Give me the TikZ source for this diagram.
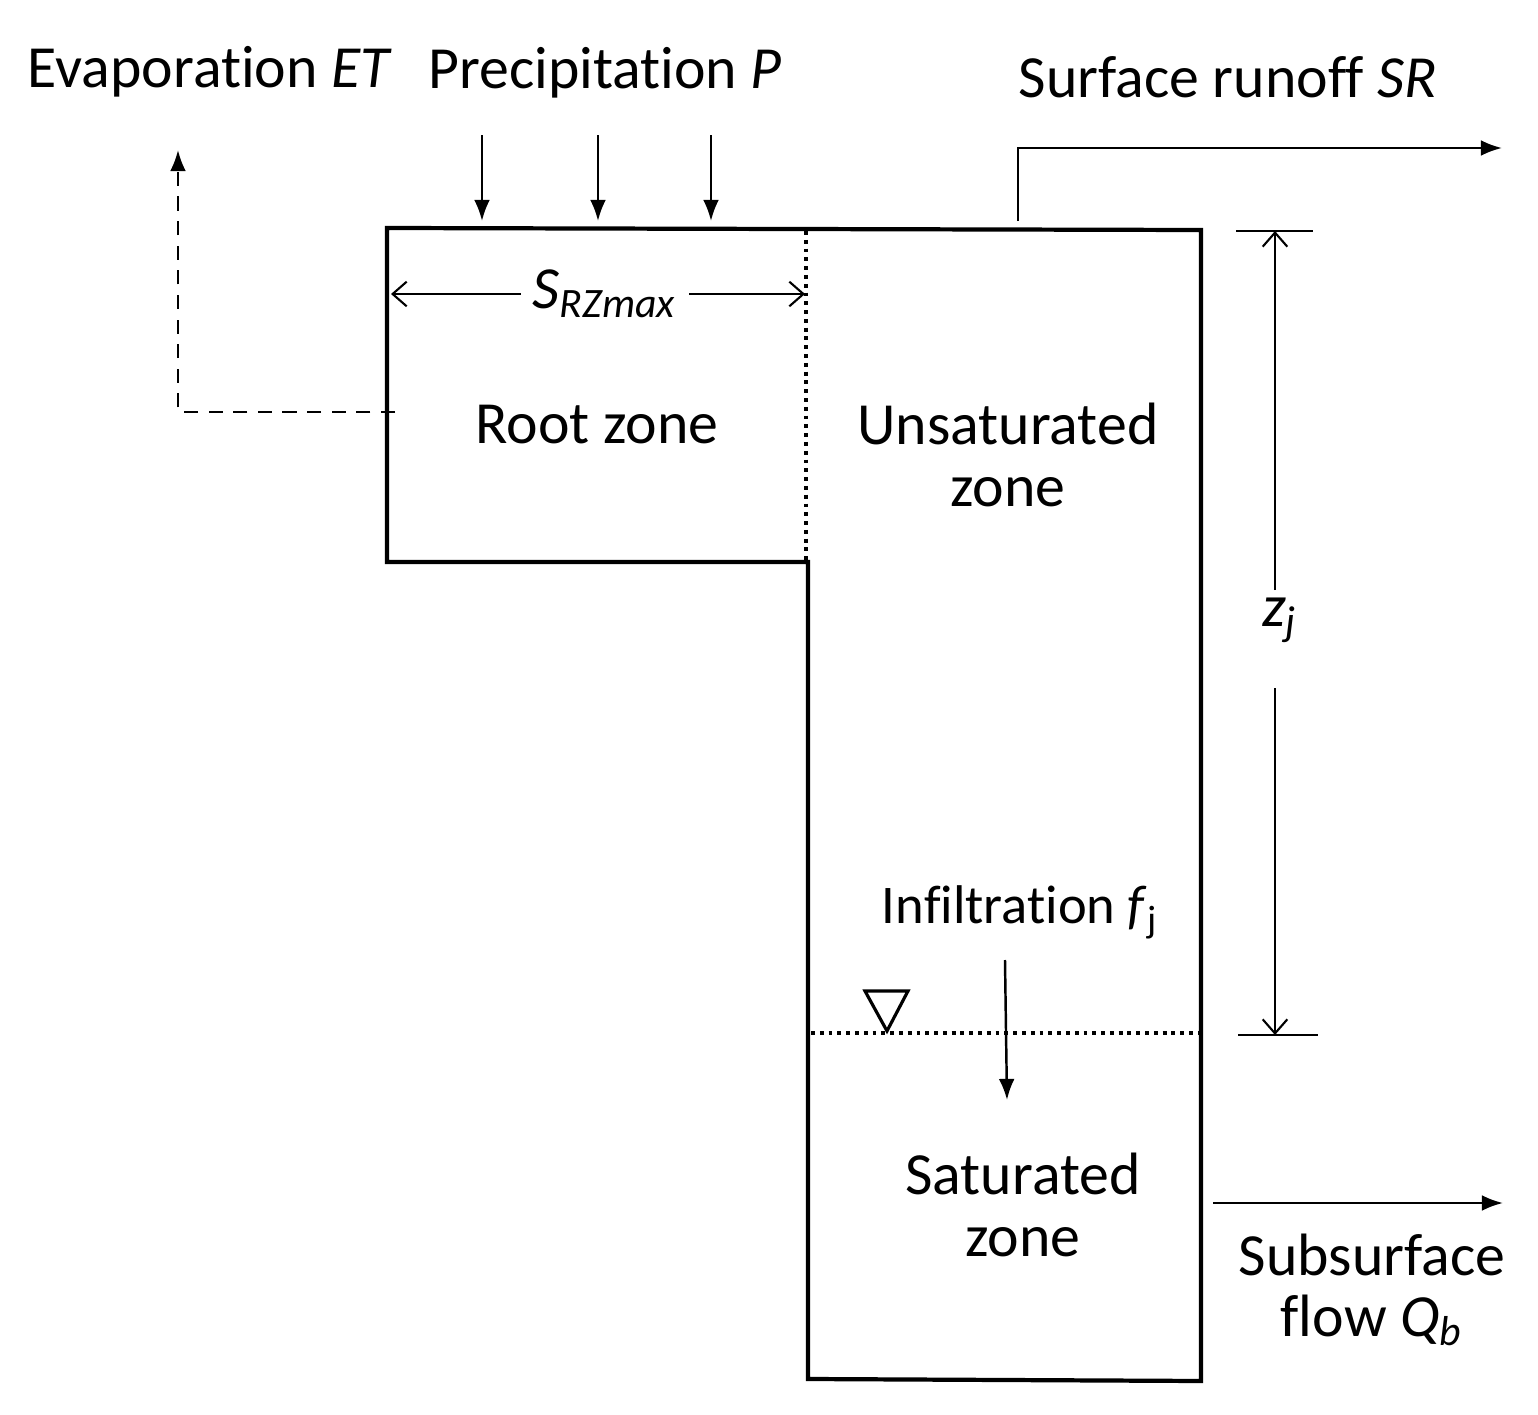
\documentclass[tikz,border=0pt]{standalone}
\usepackage{fontspec}
\setmainfont{Carlito}[Ligatures=NoCommon]
\usetikzlibrary{arrows.meta,positioning}

\begin{document}
\begin{tikzpicture}[x=0.01cm,y=-0.01cm,
  every node/.style={font=\fontsize{17}{17.5}\selectfont},
  wall/.style={line width=1.2pt,line join=miter},
  flux/.style={line width=.7pt,-{Latex[length=6pt,width=4.5pt]}},
  dimarrow/.style={line width=.6pt,-{Straight Barb[length=4pt,width=7pt]}},
  level/.style={line width=1.1pt,dash pattern=on 1.1pt off 1.4pt}]
\useasboundingbox (0,0) rectangle (1538,1415);
% corners of the store
\coordinate (tl) at (387,228);
\coordinate (tr) at (1201,230);
\coordinate (br) at (1201,1381);
\coordinate (bl) at (808,1379);
\coordinate (kneeR) at (808,562);
\coordinate (kneeL) at (387,562);
\draw[wall] (tl)--(tr)--(br)--(bl)--(kneeR)--(kneeL)--cycle;
\coordinate (divT) at (806,231);
\coordinate (divB) at (806,562);
\draw[level] (divT)--(divB);
% fluxes at the top
\node (et) at (210,72) {Evaporation \textit{ET}};
\node (prec) at (605,73) {Precipitation \textit{P}};
\node (sr) at (1228,77) {Surface runoff \textit{SR}};
\foreach \x [count=\i] in {482,598,711}{
  \coordinate (rain\i) at (\x,135);
  \coordinate (hit\i) at (\x,221);
  \draw[flux] (rain\i)--(hit\i);
}
\coordinate (etfoot) at (395,412);
\coordinate (ettop) at (178,150);
\draw[flux,dash pattern=on 4pt off 3pt] (etfoot) -| (ettop);
\coordinate (srfoot) at (1018,221);
\coordinate (srout) at (1502,148);
\draw[flux] (srfoot) |- (srout);
% root zone capacity
\node (srz) at (605,294) {\textit{S}\textsubscript{\textit{RZmax}}};
\coordinate (srzL) at (391,294);
\coordinate (srzR) at (805,294);
\draw[dimarrow] (srz.west)--(srzL);
\draw[dimarrow] (srz.east)--(srzR);
% zones
\node (rz) at (597,425) {Root zone};
\node[align=center] (uz) at (1008,455) {Unsaturated\\zone};
\node[align=center] (sz) at (1023,1205) {Saturated\\zone};
% depth to water table
\coordinate (ztop) at (1275,231);
\coordinate (zbot) at (1277,1035);
\draw[line width=.7pt] (ztop) ++(-39,0) -- ++(77,0);
\draw[line width=.7pt] (zbot) ++(-39,0) -- ++(80,0);
\node (zj) at (1280,620) {\textit{z}\textsubscript{\textit{j}}};
\coordinate (zgapA) at (1275,590);
\coordinate (zgapB) at (1275,688);
\draw[dimarrow] (zgapA)--(ztop);
\draw[dimarrow] (zgapB)--(1275,1035);
% water table
\coordinate (wtL) at (811,1033);
\coordinate (wtR) at (1199,1033);
\draw[level] (wtL)--(wtR);
\draw[line width=.9pt] (887,1031)--(865,991)--(908,991)--cycle;
\node[font=\fontsize{15.5}{17}\selectfont] (inf) at (1020,912) {Infiltration \textit{f}\textsubscript{j}};
\coordinate (infS) at (1005,960);
\coordinate (infE) at (1007,1100);
\draw[flux] (infS)--(infE);
% baseflow
\coordinate (qbS) at (1213,1203);
\coordinate (qbE) at (1503,1203);
\draw[flux] (qbS)--(qbE);
\node[align=center] (qb) at (1372,1290) {Subsurface\\flow \textit{Q}\textsubscript{\textit{b}}};
\end{tikzpicture}
\end{document}
